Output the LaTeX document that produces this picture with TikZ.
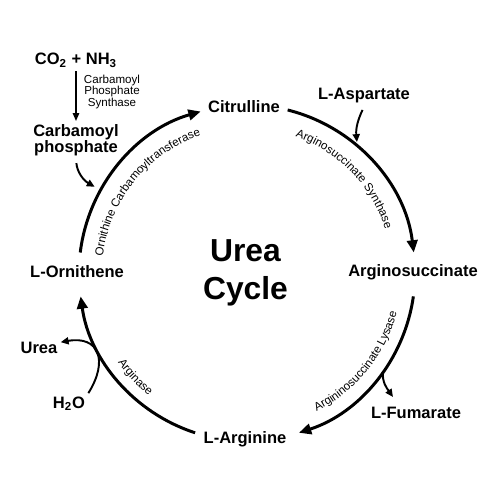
\documentclass[tikz,border=0pt]{standalone}
\usepackage{fontspec}
\setmainfont{Liberation Sans}
\usetikzlibrary{arrows.meta, decorations.text}
\newcommand{\enzfont}{\fontsize{6.6}{6.8}\selectfont}

\begin{document}
\begin{tikzpicture}[
  x=0.02cm, y=0.02cm,
  chem/.style={font=\fontsize{9.4}{9}\selectfont\bfseries, inner sep=1.7pt, align=center},
  headline/.style={font=\fontsize{18.1}{21.5}\selectfont\bfseries, align=center},
  enz/.style={font=\enzfont, align=center},
  cyc/.style={-{Triangle[length=7pt, width=6pt]}, line width=1.7pt},
  side/.style={-{Triangle[length=4.5pt, width=4pt]}, line width=1.1pt},
  feed/.style={-{Triangle[length=4.5pt, width=3.6pt]}, line width=0.9pt},
  along/.style={decorate, decoration={text along path, text align=center, text={|\enzfont|#1}}}
]
\useasboundingbox (-247,-227) rectangle (253,273);

\coordinate (hub) at (0,0);
\node[headline] (title) at (-1.5,0) {Urea\\Cycle};

\node[chem] (citr)   at (-3,166)   {Citrulline};
\node[chem] (argsuc) at (166,1)    {Arginosuccinate};
\node[chem] (larg)   at (-2,-166)  {L-Arginine};
\node[chem] (lorn)   at (-170,1)   {L-Ornithene};
\node[chem, anchor=base] (co2) at (-171,208) {CO\textsubscript{2} + NH\textsubscript{3}};
\node[chem] (carb)   at (-171,133) {Carbamoyl\\phosphate};
\node[enz]  (cps)    at (-135,181) {Carbamoyl\\Phosphate\\Synthase};
\node[chem] (lasp)   at (117,177)  {L-Aspartate};
\node[chem] (lfum)   at (169,-140) {L-Fumarate};
\node[chem] (urea)   at (-208,-75) {Urea};
\node[chem, anchor=base] (water) at (-178,-135) {H\textsubscript{2}O};

\draw[cyc] (hub) ++(173:168) arc[start angle=173, end angle=106, radius=168];
\draw[cyc] (hub) ++(76:168) arc[start angle=76, end angle=7, radius=168];
\draw[cyc] (hub) ++(-8:168) arc[start angle=-8, end angle=-72, radius=168];
\draw[cyc] (hub) ++(-108:168) arc[start angle=-108, end angle=-172, radius=168];

\path[along={Ornithine Carbamoyltransferase}] (hub) ++(178:145) arc[start angle=178, end angle=104, radius=145];
\path[along={Arginosuccinate Synthase}] (hub) ++(82:145) arc[start angle=82, end angle=6, radius=145];
\path[along={Argininosuccinate Lysase}] (hub) ++(-77:155) arc[start angle=-77, end angle=-1, radius=155];
\path[along={Arginase}] (hub) ++(-162:157) arc[start angle=-162, end angle=-112, radius=157];

\coordinate (cpin) at (150.5:175);
\coordinate (aspin) at (50:171);
\coordinate (fumout) at (-36:168);
\coordinate (fumtip) at (146,-124);

\draw[feed] (co2) -- (carb);
\draw[side, shorten <=2.4pt] (carb.south) to[out=-85, in=150] (cpin);
\draw[side, shorten <=2pt] (lasp.south) to[out=-115, in=95] (aspin);
\draw[side] (fumout) to[out=-95, in=125] (fumtip);
\draw[side] (water.north east) to[out=58, in=10, looseness=1.7] (urea.15);

\end{tikzpicture}
\end{document}
